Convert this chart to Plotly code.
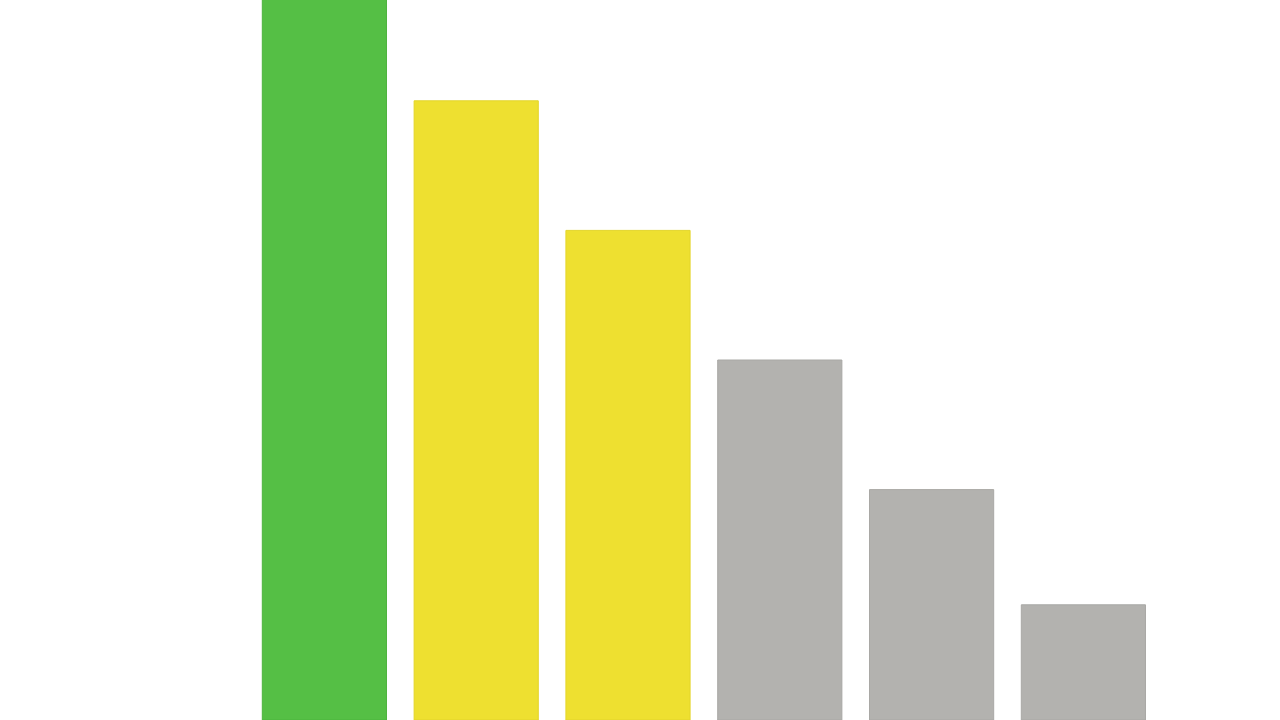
import plotly.graph_objects as go

categories = ["A", "B", "C", "D", "E", "F"]
values = [104, 86, 68, 50, 32, 16]
colors = ["#55BF45", "#EEE030", "#EEE030", "#B3B2AF", "#B3B2AF", "#B3B2AF"]
line_colors = ["#4DB43E", "#E3D52A", "#E3D52A", "#A9A8A5", "#A9A8A5", "#A9A8A5"]

fig = go.Figure(go.Bar(
    x=categories,
    y=values,
    marker=dict(color=colors, line=dict(color=line_colors, width=1)),
    width=0.818,
    hoverinfo="skip",
))

unit = 151.8
center0 = 324.4
fig.update_layout(
    width=1280, height=720,
    margin=dict(l=0, r=0, t=0, b=0),
    paper_bgcolor="white", plot_bgcolor="white",
    showlegend=False,
    xaxis=dict(visible=False, range=[-center0 / unit, (1280 - center0) / unit]),
    yaxis=dict(visible=False, range=[0, 100]),
)

fig.write_html(
    "out.html",
    config={"displayModeBar": False},
    post_script="document.body.style.margin='0';document.body.style.overflow='hidden';",
)
